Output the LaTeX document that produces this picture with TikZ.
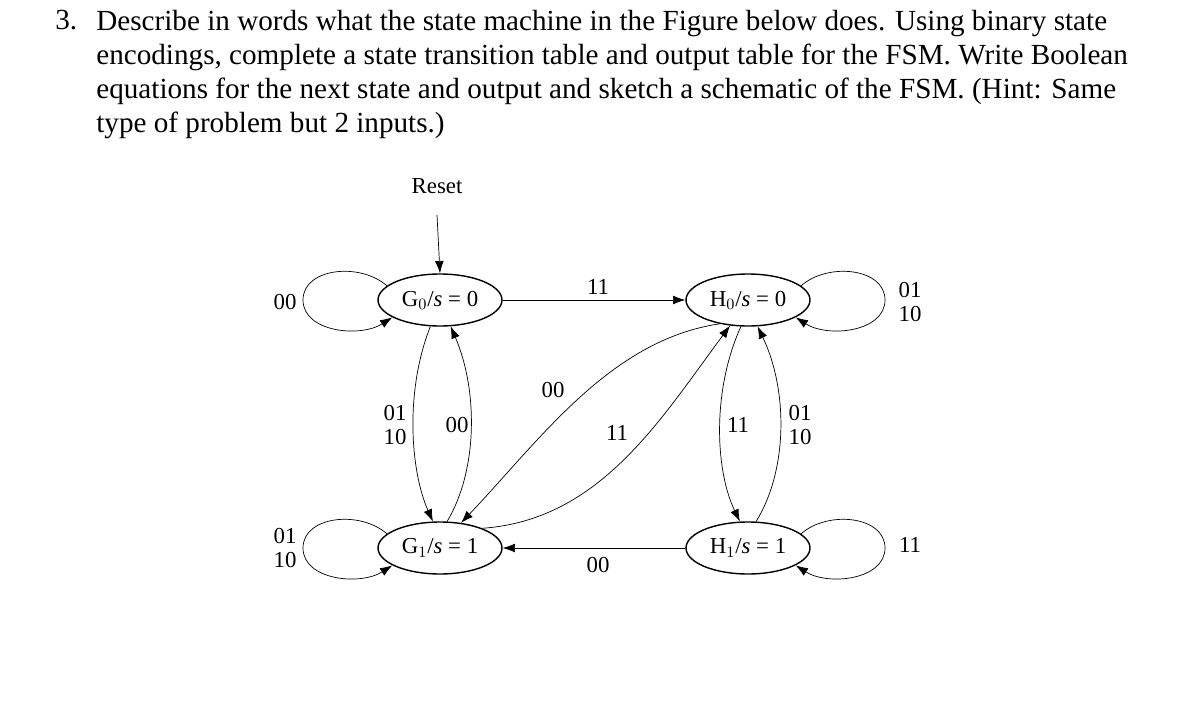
\documentclass[tikz,border=0pt]{standalone}
\usepackage{fontspec}
\setmainfont{Liberation Serif}
\usetikzlibrary{arrows.meta,shapes.geometric}
\begin{document}
\begin{tikzpicture}[x=0.02cm,y=-0.02cm,
  st/.style={ellipse,draw,thick,minimum width=2.48cm,minimum height=1.04cm,inner sep=0pt,font=\fontsize{13}{14}\selectfont},
  lb/.style={font=\fontsize{13}{13.5}\selectfont,align=center,inner sep=1pt},
  ed/.style={thin,-{Latex[length=7pt,width=5pt]}},
  q/.style={font=\fontsize{16.6}{19.3}\selectfont,anchor=north west,inner sep=0pt,align=left}]
\useasboundingbox (0,0) rectangle (1197,717);
\node[q] (num) at (55,10) {3.};
\node[q] (txt) at (96,10) {Describe in words what the state machine in the Figure below does. Using binary state\\encodings, complete a state transition table and output table for the FSM. Write Boolean\\equations for the next state and output and sketch a schematic of the FSM. (Hint: Same\\type of problem but 2 inputs.)};
\node[st] (G0) at (440,300) {G$_0$/\textit{s} = 0};
\node[st] (H0) at (748,300) {H$_0$/\textit{s} = 0};
\node[st] (G1) at (440,548) {G$_1$/\textit{s} = 1};
\node[st] (H1) at (748,548) {H$_1$/\textit{s} = 1};
\node[lb] (reset) at (437,186) {Reset};
\coordinate (rs) at (437,215);
\draw[ed] (rs) -- (G0.north);
% self loops
\draw[ed] (G0.165) .. controls (360,262) and (303,268) .. (303,300) .. controls (303,332) and (360,338) .. (G0.200);
\draw[ed] (G1.165) .. controls (360,510) and (303,516) .. (303,548) .. controls (303,580) and (360,586) .. (G1.200);
\draw[ed] (H0.15) .. controls (828,262) and (885,268) .. (885,300) .. controls (885,332) and (828,338) .. (H0.340);
\draw[ed] (H1.15) .. controls (828,510) and (885,516) .. (885,548) .. controls (885,580) and (828,586) .. (H1.340);
\node[lb] at (285,302) {00};
\node[lb] at (910,302) {01\\10};
\node[lb] at (285,548) {01\\10};
\node[lb] at (910,545) {11};
% straight
\draw[ed] (G0) -- (H0);
\draw[ed] (H1) -- (G1);
\node[lb] at (598,287) {11};
\node[lb] at (598,565) {00};
% vertical pairs
\draw[ed] (G0.250) .. controls (405,390) and (410,470) .. (G1.105);
\draw[ed] (G1.75) .. controls (478,470) and (478,390) .. (G0.292);
\node[lb] at (395,425) {01\\10};
\node[lb] at (457,425) {00};
\draw[ed] (H0.255) .. controls (712,390) and (715,470) .. (H1.107);
\draw[ed] (H1.73) .. controls (788,470) and (788,390) .. (H0.290);
\node[lb] at (738,425) {11};
\node[lb] at (800,425) {01\\10};
% diagonals
\draw[ed] (H0.220) .. controls (610,340) and (540,440) .. (G1.50);
\draw[ed] (G1.25) .. controls (600,520) and (660,420) .. (H0.235);
\node[lb] at (553,390) {00};
\node[lb] at (617,433) {11};
\end{tikzpicture}
\end{document}
